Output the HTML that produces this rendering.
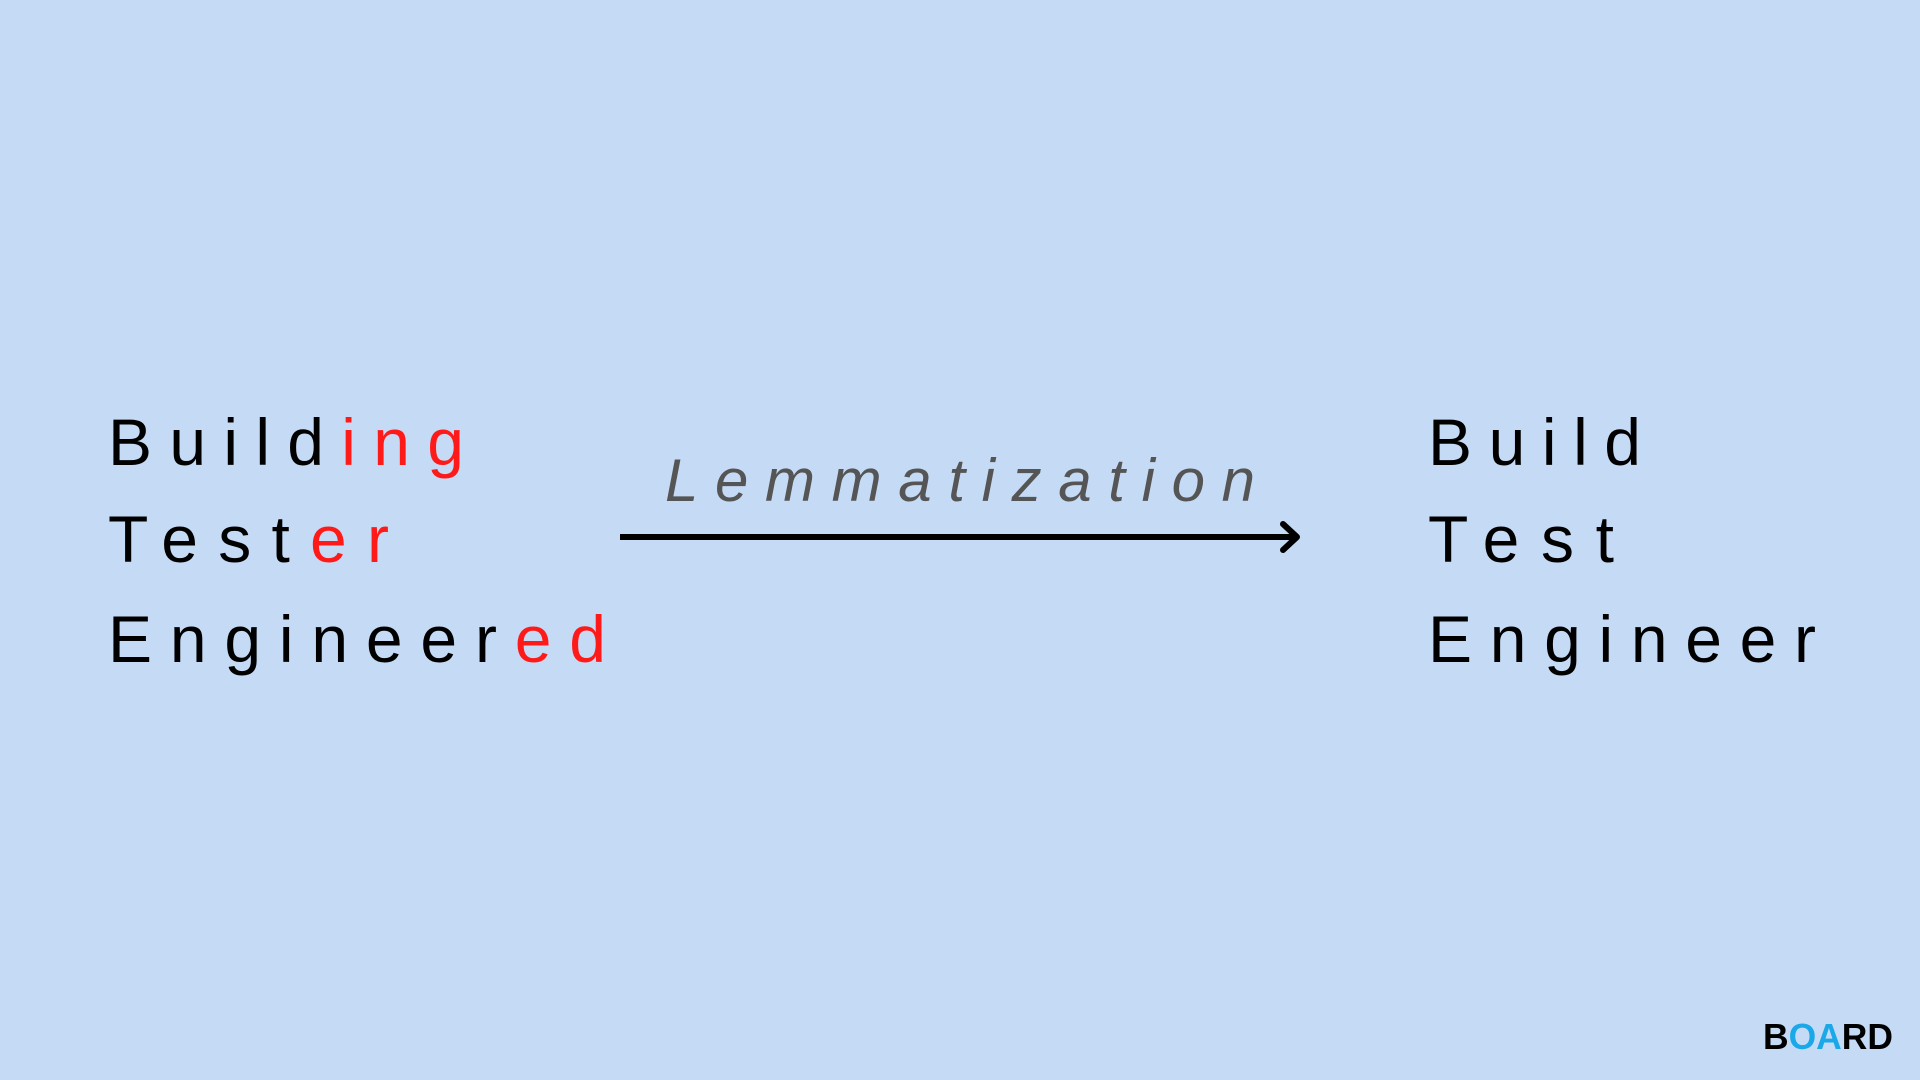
<!DOCTYPE html>
<html><head><meta charset="utf-8"><style>
html,body{margin:0;padding:0;width:1920px;height:1080px;overflow:hidden;background:#c5dbf5}
svg{display:block}
</style></head><body>
<svg width="1920" height="1080" viewBox="0 0 1920 1080" xmlns="http://www.w3.org/2000/svg">
<rect width="1920" height="1080" fill="#c5dbf5"/>
<g font-family="Liberation Sans, sans-serif" font-size="66" fill="#000">
<text x="108" y="465" textLength="356" lengthAdjust="spacing">Build<tspan fill="#ff1a1a">ing</tspan></text>
<text x="108" y="562" textLength="281" lengthAdjust="spacing">Test<tspan fill="#ff1a1a">er</tspan></text>
<text x="108" y="662" textLength="498" lengthAdjust="spacing">Engineer<tspan fill="#ff1a1a">ed</tspan></text>
<text x="1428" y="465" textLength="213" lengthAdjust="spacing">Build</text>
<text x="1428" y="562" textLength="186" lengthAdjust="spacing">Test</text>
<text x="1428" y="662" textLength="388" lengthAdjust="spacing">Engineer</text>
</g>
<text x="665" y="501" font-family="Liberation Sans, sans-serif" font-style="italic" font-size="60" fill="#555" textLength="590" lengthAdjust="spacing">Lemmatization</text>
<line x1="620" y1="537" x2="1296" y2="537" stroke="#000" stroke-width="6"/>
<polyline points="1283,524 1297,537 1283,550" fill="none" stroke="#000" stroke-width="6" stroke-linecap="round" stroke-linejoin="round"/>
<text x="1763" y="1049" font-family="Liberation Sans, sans-serif" font-weight="bold" font-size="36" fill="#000" textLength="130" lengthAdjust="spacingAndGlyphs">B<tspan fill="#1aa8e8">OA</tspan>RD</text>
</svg>
</body></html>
